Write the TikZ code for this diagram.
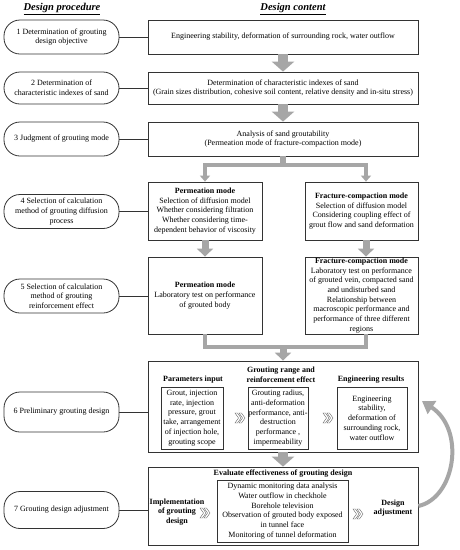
\documentclass[tikz,border=0pt]{standalone}
\usepackage{fontspec}
\setmainfont{Liberation Serif}
\usetikzlibrary{arrows.meta,calc}
\definecolor{garr}{HTML}{A6A6A6}
\definecolor{lin}{HTML}{333333}
\tikzset{
 txt/.style={font=\fontsize{8}{9.7}\selectfont, align=center, inner sep=0pt},
 btitle/.style={txt, font=\fontsize{8}{9.7}\selectfont\bfseries},
 proc/.style={txt, draw=lin, line width=0.8pt, rounded corners=16pt, minimum width=115pt},
 cbox/.style={txt, draw=lin, line width=0.8pt},
 conn/.style={draw=lin, line width=0.9pt},
 bigarrow/.style={draw=garr, line width=10pt, -{Triangle[width=22pt,length=10pt]}},
 midarrow/.style={draw=garr, line width=7pt, -{Triangle[width=16pt,length=8pt]}},
 smallarrow/.style={draw=garr, line width=4pt, -{Triangle[width=10pt,length=6pt]}},
 gline/.style={draw=garr, line width=4.5pt},
 garc/.style={draw=garr, line width=4pt, -{Triangle[width=15pt,length=12pt]}},
 hdr/.style={font=\fontsize{10.5}{12}\selectfont\bfseries\itshape, inner sep=0pt},
 chev/.pic={
   \draw[gray!70!black, line width=0.35pt, line join=miter] (-5,-5) -- (-2.5,-5) -- (1,0) -- (-2.5,5) -- (-5,5) -- (-1.5,0) -- cycle;
   \draw[gray!70!black, line width=0.35pt, line join=miter] (-1,-5) -- (1.5,-5) -- (5,0) -- (1.5,5) -- (-1,5) -- (2.5,0) -- cycle;
 },
}
\begin{document}
\begin{tikzpicture}[x=1pt,y=-1pt]
\fill[white] (0,0) rectangle (460,550);
\useasboundingbox (0,0) rectangle (460,550);

\node[hdr] (h1) at (62,9) {\underline{Design procedure}};
\node[hdr] (h2) at (293,9) {\underline{Design content}};

% procedure nodes
\node[proc, minimum height=34pt] (p1) at (61.5,37) {1 Determination of grouting\\design objective};
\node[proc, minimum height=32pt] (p2) at (61.5,88) {2 Determination of\\characteristic indexes of sand};
\node[proc, minimum height=34pt] (p3) at (61.5,139) {3 Judgment of grouting mode};
\node[proc, minimum height=34pt] (p4) at (61.5,211.5) {4 Selection of calculation\\method of grouting diffusion\\process};
\node[proc, minimum height=34pt] (p5) at (61.5,296) {5 Selection of calculation\\method of grouting\\reinforcement effect};
\node[proc, minimum height=40pt] (p6) at (61.5,412) {6 Preliminary grouting design};
\node[proc, minimum height=37pt] (p7) at (61.5,510) {7 Grouting design adjustment};

% content boxes
\node[cbox, minimum width=270pt, minimum height=34pt] (c1) at (283,37) {Engineering stability, deformation of surrounding rock, water outflow};
\node[cbox, minimum width=270pt, minimum height=32pt] (c2) at (283,88) {Determination of characteristic indexes of sand\\(Grain sizes distribution, cohesive soil content, relative density and in-situ stress)};
\node[cbox, minimum width=270pt, minimum height=34pt] (c3) at (283,139) {Analysis of sand groutability\\(Permeation mode of fracture-compaction mode)};

\node[cbox, minimum width=114pt, minimum height=58pt] (perm4) at (205,211) {\textbf{Permeation mode}\\Selection of diffusion model\\Whether considering filtration\\Whether considering time-\\dependent behavior of viscosity};
\node[cbox, minimum width=113pt, minimum height=58pt] (frac4) at (361.5,211) {\textbf{Fracture-compaction mode}\\Selection of diffusion model\\Considering coupling effect of\\grout flow and sand deformation};

\node[cbox, minimum width=114pt, minimum height=77pt] (perm5) at (205,295.5) {\textbf{Permeation mode}\\Laboratory test on performance\\of grouted body};
\node[cbox, minimum width=113pt, minimum height=77pt] (frac5) at (361.5,295.5) {\textbf{Fracture-compaction mode}\\Laboratory test on performance\\of grouted vein, compacted sand\\and undisturbed sand\\Relationship between\\macroscopic performance and\\performance of three different\\regions};

% box 6
\node[cbox, minimum width=270pt, minimum height=91pt] (c6) at (283,406.5) {};
\node[btitle] (t61) at (193,380) {Parameters input};
\node[btitle] (t62) at (281,375) {Grouting range and\\reinforcement effect};
\node[btitle] (t63) at (371,380) {Engineering results};
\node[cbox, minimum width=62pt, minimum height=62pt] (i1) at (192,418) {Grout, injection\\rate, injection\\pressure, grout\\take, arrangement\\of injection hole,\\grouting scope};
\node[cbox, minimum width=60pt, minimum height=62pt] (i2) at (278,418) {Grouting radius,\\anti-deformation\\performance, anti-\\destruction\\performance ,\\impermeability};
\node[cbox, minimum width=70pt, minimum height=62pt] (i3) at (372,418) {Engineering\\stability,\\deformation of\\surrounding rock,\\water outflow};
\pic at (240,418) {chev};
\pic at (328,418) {chev};

% box 7
\node[cbox, minimum width=270pt, minimum height=78pt] (c7) at (283,506) {};
\node[btitle] (t7) at (283,474) {Evaluate effectiveness of grouting design};
\node[cbox, minimum width=131pt, minimum height=62pt] (i7) at (282.5,511) {Dynamic monitoring data analysis\\Water outflow in checkhole\\Borehole television\\Observation of grouted body exposed\\in tunnel face\\Monitoring of tunnel deformation};
\node[btitle] (imp) at (177,512) {Implementation\\of grouting\\design};
\node[btitle] (adj) at (393,508) {Design\\adjustment};
\pic at (205,513) {chev};
\pic at (358,514) {chev};

% connectors
\draw[conn] (p1.east) -- (c1.west);
\draw[conn] (p2.east) -- (c2.west);
\draw[conn] (p3.east) -- (c3.west);
\draw[conn] (p4.east) -- (p4.east -| perm4.west);
\draw[conn] (p5.east) -- (p5.east -| perm5.west);
\draw[conn] (p6.east) -- (p6.east -| c6.west);
\draw[conn] (p7.east) -- (p7.east -| c7.west);

% gray arrows
\draw[bigarrow] (c1.south) -- (c2.north);
\draw[bigarrow] (c2.south) -- (c3.north);

\coordinate (b3) at (283,165);
\coordinate (bl) at (205,165);
\coordinate (br) at (366,165);
\draw[gline, line width=5.5pt] (c3.south) -- (b3);
\draw[gline, line cap=rect] (bl) -- (br);
\draw[smallarrow] (bl) -- (perm4.north);
\draw[smallarrow] (br) -- (br |- frac4.north);

\draw[midarrow] (perm4.south) -- (perm5.north);
\draw[midarrow] (br |- frac4.south) -- (br |- frac5.north);

\coordinate (ml) at (205,347);
\coordinate (mr) at (366,347);
\coordinate (mc) at (283,347);
\draw[gline, line join=miter] (perm5.south) -- (ml) -- (mr) -- (mr |- frac5.south);
\draw[midarrow] (mc) -- (c6.north);

\draw[bigarrow] (c6.south) -- (c7.north);

\coordinate (ctip) at (422,401);
\draw[garc] (c7.east) .. controls (455,498) and (466,430) .. (ctip);
\end{tikzpicture}
\end{document}
